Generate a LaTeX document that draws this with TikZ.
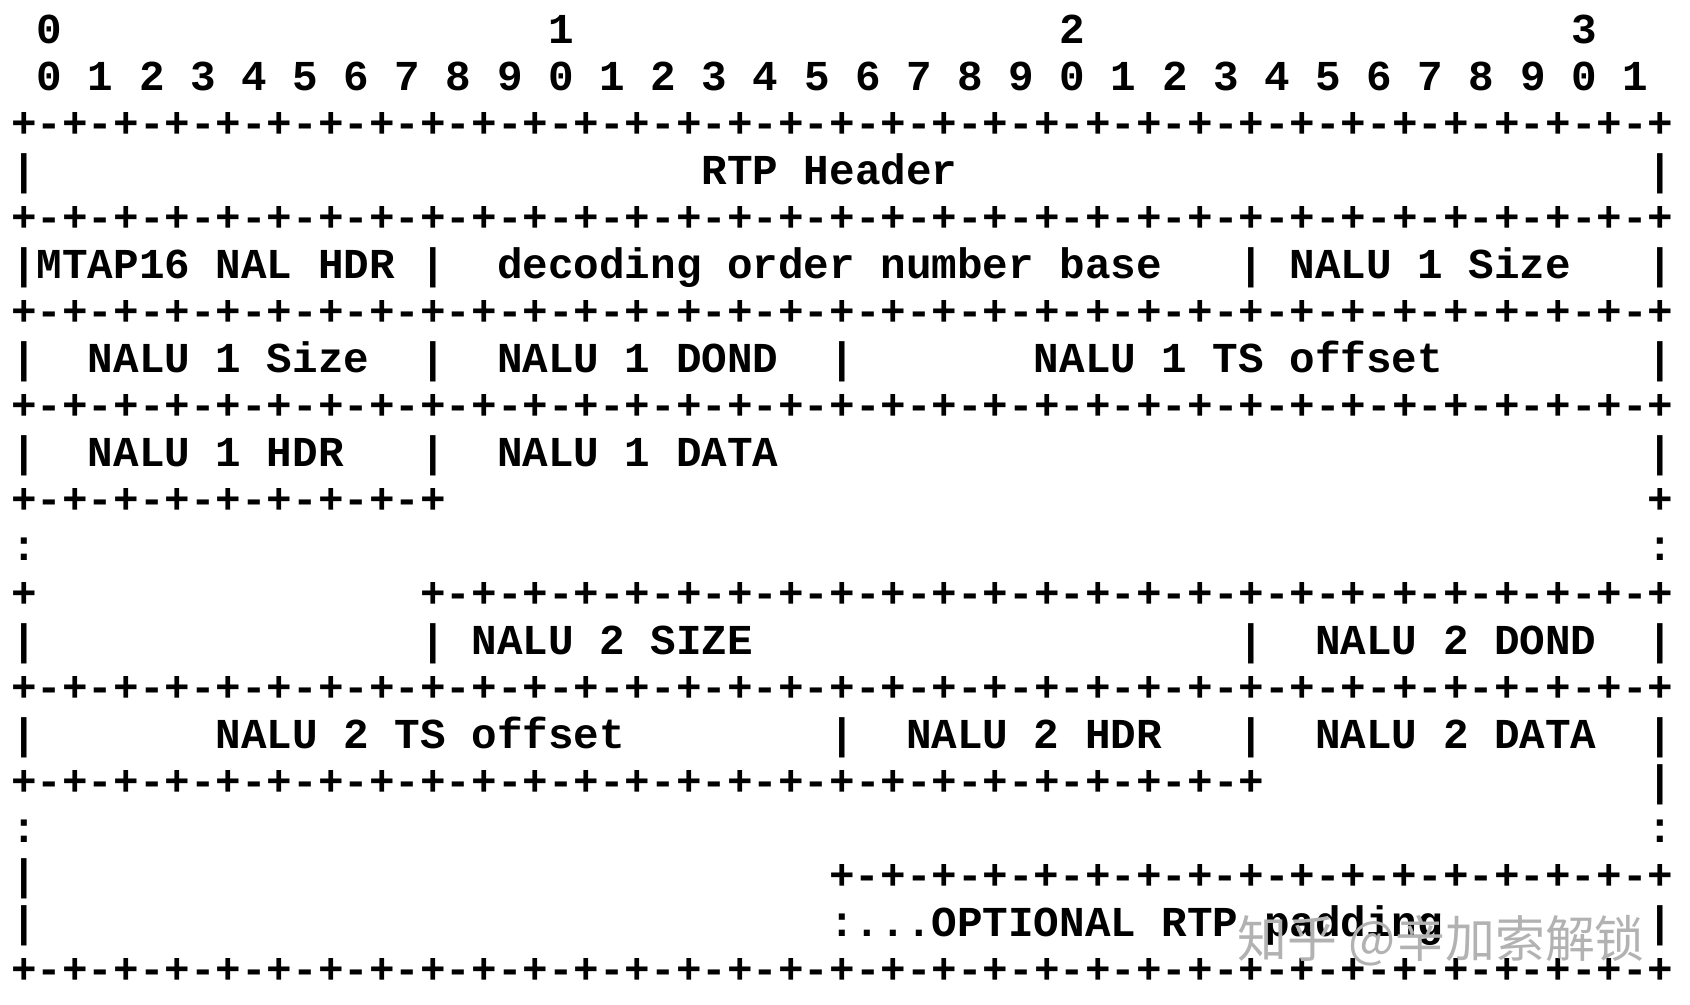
\documentclass[tikz,border=0pt]{standalone}
\usepackage{fontspec}
\newfontfamily\rfcfont{Liberation Mono}
\newfontfamily\cjkfont{Noto Sans CJK SC}
\usepackage{tikz}
\usetikzlibrary{positioning}
\tikzstyle{cell} = [anchor=west, inner sep=0pt, text height=12pt, text depth=0pt, font=\rfcfont\bfseries\fontsize{19.67}{21.7}\selectfont]
\tikzstyle{watermark} = [anchor=west, inner sep=0pt, text=black!30, font=\cjkfont\fontsize{23}{25}\selectfont]
\newcommand{\seg}{+-+-+-+-}

\begin{document}
\begin{tikzpicture}[x=11.8pt, y=-21.7pt]
\useasboundingbox (0pt,0pt) rectangle (780pt,-463.5pt);
\begin{scope}[shift={(0.424,0.645)}]

% Bit numbers
\node (tens) [cell] at (0,0) {\ 0\ \ \ \ \ \ \ \ \ \ \ \ \ \ \ \ \ \ \ 1\ \ \ \ \ \ \ \ \ \ \ \ \ \ \ \ \ \ \ 2\ \ \ \ \ \ \ \ \ \ \ \ \ \ \ \ \ \ \ 3};
\node (ones) [cell] at (0,1) {\ 0 1 2 3 4 5 6 7 8 9 0 1 2 3 4 5 6 7 8 9 0 1 2 3 4 5 6 7 8 9 0 1};

% RTP header
\node (r2) [cell] at (0,2) {\seg\seg\seg\seg\seg\seg\seg\seg+};
\node (l3) [cell] at (0,3) {|};
\node (rtp) [cell] at (27,3) {RTP Header};
\node (e3) [cell] at (64,3) {|};
\node (r4) [cell] at (0,4) {\seg\seg\seg\seg\seg\seg\seg\seg+};

% MTAP16 row
\node (mtap) [cell] at (0,5) {|MTAP16 NAL HDR |};
\node (don) [cell] at (19,5) {decoding order number base};
\node (s5) [cell] at (48,5) {|};
\node (size1a) [cell] at (50,5) {NALU 1 Size};
\node (e5) [cell] at (64,5) {|};
\node (r6) [cell] at (0,6) {\seg\seg\seg\seg\seg\seg\seg\seg+};

% NALU 1
\node (l7) [cell] at (0,7) {|};
\node (size1b) [cell] at (3,7) {NALU 1 Size};
\node (s7a) [cell] at (16,7) {|};
\node (dond1) [cell] at (19,7) {NALU 1 DOND};
\node (s7b) [cell] at (32,7) {|};
\node (ts1) [cell] at (40,7) {NALU 1 TS offset};
\node (e7) [cell] at (64,7) {|};
\node (r8) [cell] at (0,8) {\seg\seg\seg\seg\seg\seg\seg\seg+};
\node (l9) [cell] at (0,9) {|};
\node (hdr1) [cell] at (3,9) {NALU 1 HDR};
\node (s9) [cell] at (16,9) {|};
\node (data1) [cell] at (19,9) {NALU 1 DATA};
\node (e9) [cell] at (64,9) {|};
\node (r10) [cell] at (0,10) {\seg\seg+};
\node (e10) [cell] at (64,10) {+};
\node (l11) [cell] at (0,11) {:};
\node (e11) [cell] at (64,11) {:};
\node (l12) [cell] at (0,12) {+};
\node (r12) [cell] at (16,12) {\seg\seg\seg\seg\seg\seg+};

% NALU 2
\node (l13) [cell] at (0,13) {|};
\node (s13a) [cell] at (16,13) {|};
\node (size2) [cell] at (18,13) {NALU 2 SIZE};
\node (s13b) [cell] at (48,13) {|};
\node (dond2) [cell] at (51,13) {NALU 2 DOND};
\node (e13) [cell] at (64,13) {|};
\node (r14) [cell] at (0,14) {\seg\seg\seg\seg\seg\seg\seg\seg+};
\node (l15) [cell] at (0,15) {|};
\node (ts2) [cell] at (8,15) {NALU 2 TS offset};
\node (s15a) [cell] at (32,15) {|};
\node (hdr2) [cell] at (35,15) {NALU 2 HDR};
\node (s15b) [cell] at (48,15) {|};
\node (data2) [cell] at (51,15) {NALU 2 DATA};
\node (e15) [cell] at (64,15) {|};
\node (r16) [cell] at (0,16) {\seg\seg\seg\seg\seg\seg+};
\node (e16) [cell] at (64,16) {|};
\node (l17) [cell] at (0,17) {:};
\node (e17) [cell] at (64,17) {:};

% Padding
\node (l18) [cell] at (0,18) {|};
\node (r18) [cell] at (32,18) {\seg\seg\seg\seg+};
\node (l19) [cell] at (0,19) {|};
\node (pad) [cell] at (32,19) {:...OPTIONAL RTP padding};
\node (e19) [cell] at (64,19) {|};
\node (r20) [cell] at (0,20) {\seg\seg\seg\seg\seg\seg\seg\seg+};

\end{scope}
\node (wm) [watermark] at (571pt,-434pt) {知乎 @辛加索解锁};
\end{tikzpicture}
\end{document}
